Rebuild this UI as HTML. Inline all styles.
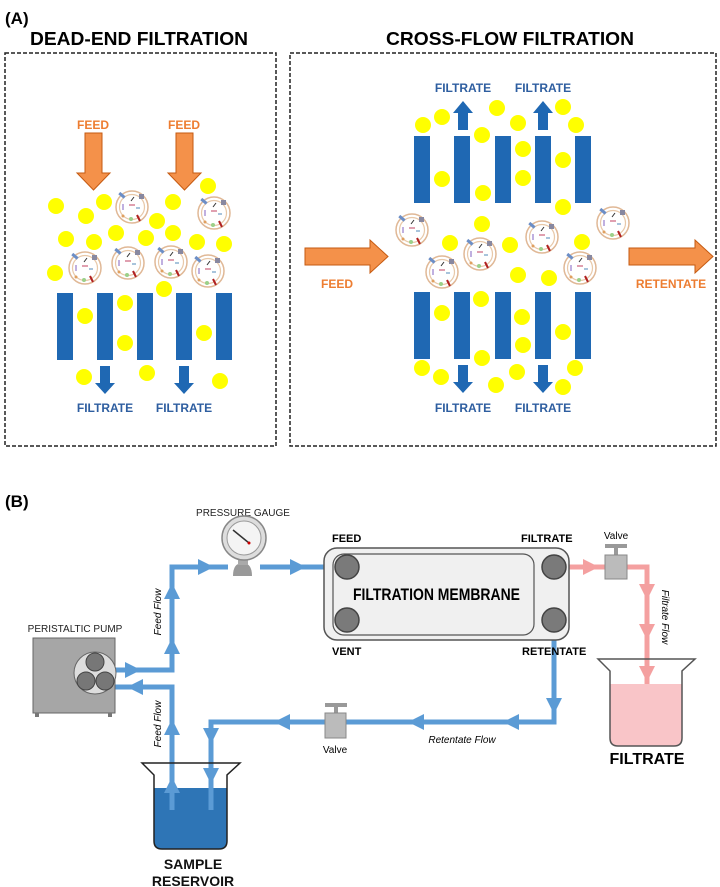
<!DOCTYPE html>
<html><head><meta charset="utf-8"><style>
body{margin:0;background:#fff}
svg{display:block}
text{font-family:"Liberation Sans",Arial,sans-serif}
</style></head><body>
<svg width="720" height="887" viewBox="0 0 720 887" xmlns="http://www.w3.org/2000/svg">
<defs>
<symbol id="pl" viewBox="-18 -18 36 36" overflow="visible">
<circle r="16" fill="#fff" stroke="#e0b896" stroke-width="1.5"/>
<circle r="12.5" fill="none" stroke="#e8c8a8" stroke-width="1.2"/>
<rect x="-14" y="-13" width="7" height="3" fill="#6c8ec6" transform="rotate(40 -10 -11)"/>
<rect x="7" y="-13" width="5" height="5" fill="#8888a0"/>
<line x1="-1" y1="-6" x2="2" y2="-10" stroke="#333" stroke-width="1"/>
<line x1="-3" y1="-2" x2="3" y2="-2" stroke="#c04060" stroke-width="1"/>
<line x1="4" y1="1" x2="8" y2="1" stroke="#8ab0d0" stroke-width="1.5"/>
<line x1="-9" y1="-3" x2="-9" y2="3" stroke="#8060c0" stroke-width="1"/>
<line x1="5" y1="8" x2="8" y2="14" stroke="#b02020" stroke-width="2"/>
<circle cx="-1" cy="12" r="2" fill="#9bd08a"/>
<circle cx="-9" cy="9" r="1.5" fill="#e0a060"/>
</symbol>
</defs>

<text x="5" y="24" font-size="17" font-weight="bold">(A)</text>
<text x="30" y="45" font-size="18" font-weight="bold" textLength="218" lengthAdjust="spacingAndGlyphs">DEAD-END FILTRATION</text>
<text x="386" y="45" font-size="18" font-weight="bold" textLength="248" lengthAdjust="spacingAndGlyphs">CROSS-FLOW FILTRATION</text>
<rect x="5" y="53" width="271" height="393" fill="none" stroke="#222" stroke-width="1.5" stroke-dasharray="4,2"/>
<rect x="290" y="53" width="426" height="393" fill="none" stroke="#222" stroke-width="1.5" stroke-dasharray="4,2"/>

<!-- dead-end -->
<g fill="#ed7d31" font-size="12" font-weight="bold">
<text x="93" y="129" text-anchor="middle">FEED</text>
<text x="184" y="129" text-anchor="middle">FEED</text>
</g>
<g fill="#f4914a" stroke="#c55a11" stroke-width="1">
<path d="M85 133H102V173H110L93.5 190L77 173H85Z"/>
<path d="M176 133H193V173H201L184.5 190L168 173H176Z"/>
</g>
<g fill="#1f68b3">
<rect x="57" y="293" width="16" height="67"/><rect x="97" y="293" width="16" height="67"/><rect x="137" y="293" width="16" height="67"/><rect x="176" y="293" width="16" height="67"/><rect x="216" y="293" width="16" height="67"/>
<path d="M100 366H110V383H115L105 394L95 383H100Z"/>
<path d="M179 366H189V383H194L184 394L174 383H179Z"/>
</g>
<g fill="#2e5ea0" font-size="12" font-weight="bold" text-anchor="middle">
<text x="105" y="412">FILTRATE</text><text x="184" y="412">FILTRATE</text>
</g>
<g fill="#ffff00">
<circle cx="56" cy="206" r="8"/><circle cx="86" cy="216" r="8"/><circle cx="104" cy="202" r="8"/><circle cx="66" cy="239" r="8"/><circle cx="94" cy="242" r="8"/><circle cx="116" cy="233" r="8"/><circle cx="146" cy="238" r="8"/><circle cx="157" cy="221" r="8"/><circle cx="173" cy="202" r="8"/><circle cx="208" cy="186" r="8"/><circle cx="173" cy="233" r="8"/><circle cx="197" cy="242" r="8"/><circle cx="224" cy="244" r="8"/><circle cx="55" cy="273" r="8"/><circle cx="164" cy="289" r="8"/><circle cx="85" cy="316" r="8"/><circle cx="125" cy="303" r="8"/><circle cx="125" cy="343" r="8"/><circle cx="204" cy="333" r="8"/><circle cx="84" cy="377" r="8"/><circle cx="147" cy="373" r="8"/><circle cx="220" cy="381" r="8"/>
</g>
<use href="#pl" x="114" y="189" width="36" height="36"/>
<use href="#pl" x="196" y="195" width="36" height="36"/>
<use href="#pl" x="67" y="250" width="36" height="36"/>
<use href="#pl" x="110" y="245" width="36" height="36"/>
<use href="#pl" x="153" y="244" width="36" height="36"/>
<use href="#pl" x="190" y="253" width="36" height="36"/>

<!-- cross-flow -->
<g fill="#1f68b3">
<rect x="414" y="136" width="16" height="67"/><rect x="454" y="136" width="16" height="67"/><rect x="495" y="136" width="16" height="67"/><rect x="535" y="136" width="16" height="67"/><rect x="575" y="136" width="16" height="67"/>
<rect x="414" y="292" width="16" height="67"/><rect x="454" y="292" width="16" height="67"/><rect x="495" y="292" width="16" height="67"/><rect x="535" y="292" width="16" height="67"/><rect x="575" y="292" width="16" height="67"/>
<path d="M458 130H468V113H473L463 101L453 113H458Z"/>
<path d="M538 130H548V113H553L543 101L533 113H538Z"/>
<path d="M458 365H468V382H473L463 393L453 382H458Z"/>
<path d="M538 365H548V382H553L543 393L533 382H538Z"/>
</g>
<g fill="#2e5ea0" font-size="12" font-weight="bold" text-anchor="middle">
<text x="463" y="92">FILTRATE</text><text x="543" y="92">FILTRATE</text>
<text x="463" y="412">FILTRATE</text><text x="543" y="412">FILTRATE</text>
</g>
<g fill="#f4914a" stroke="#c55a11" stroke-width="1">
<path d="M305 248H370V240L388 256.5L370 273V265H305Z"/>
<path d="M629 248H695V240L713 256.5L695 273V265H629Z"/>
</g>
<g fill="#ed7d31" font-size="12" font-weight="bold" text-anchor="middle">
<text x="337" y="288">FEED</text><text x="671" y="288">RETENTATE</text>
</g>
<g fill="#ffff00">
<circle cx="423" cy="125" r="8"/><circle cx="442" cy="117" r="8"/><circle cx="497" cy="108" r="8"/><circle cx="482" cy="135" r="8"/><circle cx="518" cy="123" r="8"/><circle cx="563" cy="107" r="8"/><circle cx="576" cy="125" r="8"/><circle cx="523" cy="149" r="8"/><circle cx="563" cy="160" r="8"/><circle cx="442" cy="179" r="8"/><circle cx="483" cy="193" r="8"/><circle cx="523" cy="178" r="8"/><circle cx="563" cy="207" r="8"/><circle cx="482" cy="224" r="8"/><circle cx="450" cy="243" r="8"/><circle cx="510" cy="245" r="8"/><circle cx="582" cy="242" r="8"/><circle cx="518" cy="275" r="8"/><circle cx="549" cy="278" r="8"/><circle cx="481" cy="299" r="8"/><circle cx="442" cy="313" r="8"/><circle cx="522" cy="317" r="8"/><circle cx="563" cy="332" r="8"/><circle cx="523" cy="345" r="8"/><circle cx="482" cy="358" r="8"/><circle cx="422" cy="368" r="8"/><circle cx="441" cy="377" r="8"/><circle cx="496" cy="385" r="8"/><circle cx="517" cy="372" r="8"/><circle cx="575" cy="368" r="8"/><circle cx="563" cy="387" r="8"/>
</g>
<use href="#pl" x="394" y="212" width="36" height="36"/>
<use href="#pl" x="462" y="236" width="36" height="36"/>
<use href="#pl" x="424" y="254" width="36" height="36"/>
<use href="#pl" x="524" y="219" width="36" height="36"/>
<use href="#pl" x="595" y="205" width="36" height="36"/>
<use href="#pl" x="562" y="250" width="36" height="36"/>

<!-- (B) -->
<text x="5" y="507" font-size="17" font-weight="bold">(B)</text>
<text x="243" y="516" font-size="10" text-anchor="middle" fill="#222">PRESSURE GAUGE</text>
<text x="75" y="632" font-size="10" text-anchor="middle" fill="#222">PERISTALTIC PUMP</text>

<path d="M154 788H227V841Q227 849 219 849H162Q154 849 154 841Z" fill="#2e75b6"/>

<g fill="none" stroke="#5b9bd5" stroke-width="5">
<path d="M115 670H172V567H228"/>
<path d="M260 567H335"/>
<path d="M115 687H172V810"/>
<path d="M554 640V722H211V810"/>
</g>
<g fill="#5b9bd5">
<path d="M198 559L214 567L198 575Z"/>
<path d="M290 559L306 567L290 575Z"/>
<path d="M164 599L172 583L180 599Z"/>
<path d="M164 654L172 638L180 654Z"/>
<path d="M125 662L141 670L125 678Z"/>
<path d="M143 679L127 687L143 695Z"/>
<path d="M164 735L172 719L180 735Z"/>
<path d="M164 793L172 777L180 793Z"/>
<path d="M546 698L554 714L562 698Z"/>
<path d="M519 714L503 722L519 730Z"/>
<path d="M424 714L408 722L424 730Z"/>
<path d="M290 714L274 722L290 730Z"/>
<path d="M203 728L211 744L219 728Z"/>
<path d="M203 768L211 784L219 768Z"/>
</g>
<g fill="none" stroke="#f4a0a0" stroke-width="5">
<path d="M568 567H647V693"/>
</g>
<g fill="#f4a0a0">
<path d="M583 559L599 567L583 575Z"/>
<path d="M639 584L647 600L655 584Z"/>
<path d="M639 624L647 640L655 624Z"/>
<path d="M639 666L647 682L655 666Z"/>
</g>

<path d="M233 576Q233 563 242.5 563Q252 563 252 576Z" fill="#999"/>
<rect x="238" y="557" width="10" height="8" fill="#aaa"/>
<circle cx="244" cy="538" r="22" fill="#ddd" stroke="#888" stroke-width="1.5"/>
<circle cx="244" cy="538" r="17" fill="#f4f4f4" stroke="#999"/>
<line x1="233" y1="530" x2="249" y2="543" stroke="#333" stroke-width="1.5"/>
<circle cx="249" cy="543" r="1.5" fill="#c00"/>

<rect x="324" y="548" width="245" height="92" rx="13" fill="#f0f0f0" stroke="#555" stroke-width="1.5"/>
<rect x="333" y="554" width="201" height="81" rx="11" fill="#f0f0f0" stroke="#555" stroke-width="1.2"/>
<g fill="#7a7a7a" stroke="#444" stroke-width="1.5">
<circle cx="347" cy="567" r="12"/><circle cx="347" cy="620" r="12"/><circle cx="554" cy="567" r="12"/><circle cx="554" cy="620" r="12"/>
</g>
<text x="353" y="600" font-size="17" font-weight="bold" textLength="167" lengthAdjust="spacingAndGlyphs">FILTRATION MEMBRANE</text>
<g font-size="11" font-weight="bold">
<text x="332" y="542">FEED</text><text x="521" y="542">FILTRATE</text>
<text x="332" y="655">VENT</text><text x="522" y="655">RETENTATE</text>
</g>

<rect x="605" y="544" width="22" height="4" fill="#999"/>
<rect x="614" y="547" width="4" height="9" fill="#999"/>
<rect x="605" y="555" width="22" height="24" fill="#bbb" stroke="#888"/>
<text x="616" y="539" font-size="10" text-anchor="middle">Valve</text>
<rect x="325" y="703" width="22" height="4" fill="#999"/>
<rect x="334" y="706" width="4" height="8" fill="#999"/>
<rect x="325" y="713" width="21" height="25" fill="#bbb" stroke="#888"/>
<text x="335" y="753" font-size="10" text-anchor="middle">Valve</text>
<text x="462" y="743" font-size="10" font-style="italic" text-anchor="middle">Retentate Flow</text>
<text font-size="10" font-style="italic" text-anchor="middle" transform="translate(662,617) rotate(90)">Filtrate Flow</text>
<text font-size="10" font-style="italic" text-anchor="middle" transform="translate(161,612) rotate(-90)">Feed Flow</text>
<text font-size="10" font-style="italic" text-anchor="middle" transform="translate(161,724) rotate(-90)">Feed Flow</text>

<rect x="33" y="638" width="82" height="75" fill="#a6a6a6" stroke="#666"/>
<rect x="35" y="713" width="4" height="4" fill="#777"/><rect x="108" y="713" width="4" height="4" fill="#777"/>
<circle cx="95" cy="673" r="21" fill="#ddd" stroke="#666"/>
<g fill="#777" stroke="#444"><circle cx="95" cy="662" r="9"/><circle cx="86" cy="681" r="9"/><circle cx="105" cy="681" r="9"/></g>

<path d="M610 684H682V738Q682 746 674 746H618Q610 746 610 738Z" fill="#f9c5c8"/>
<path d="M598 659L610 671V738Q610 746 618 746H674Q682 746 682 738V671L695 659Z" fill="none" stroke="#555" stroke-width="1.5"/>
<text x="647" y="764" font-size="16" font-weight="bold" text-anchor="middle">FILTRATE</text>

<path d="M142 763L154 775V841Q154 849 162 849H219Q227 849 227 841V775L240 763Z" fill="none" stroke="#222" stroke-width="1.5"/>
<path d="M172 788V810M211 788V810" stroke="#5b9bd5" stroke-width="5"/>
<text x="193" y="869" font-size="14" font-weight="bold" text-anchor="middle" fill="#111">SAMPLE</text>
<text x="193" y="886" font-size="14" font-weight="bold" text-anchor="middle" fill="#111">RESERVOIR</text>
</svg>
</body></html>
